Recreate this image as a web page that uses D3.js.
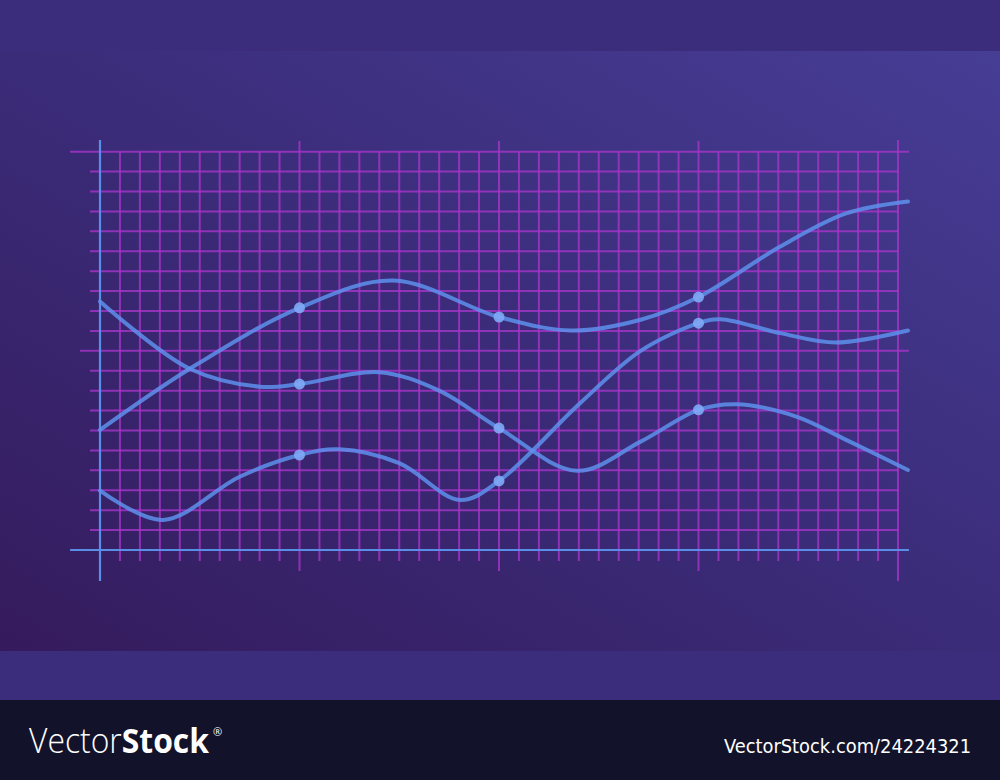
<!DOCTYPE html>
<html>
<head>
<meta charset="utf-8">
<script src="https://cdn.jsdelivr.net/npm/d3@7"></script>
<style>
html,body{margin:0;padding:0;background:#12132a;}
svg{display:block;}
</style>
</head>
<body>
<script>
// ---- data (x in grid columns, y in grid rows) ----
const seriesA = [[0,6.03],[4.5,9.1],[10,12.16],[14.7,13.53],[20,11.7],[23.6,11.02],[27.1,11.56],[30,12.7],[34.1,15.24],[37.4,16.9],[40.5,17.5]];
const seriesB = [[0,12.48],[4.5,9.1],[8,8.2],[10,8.33],[14,8.93],[17,8.0],[20,6.12],[23.9,3.98],[27.1,5.44],[30,7.04],[31.9,7.32],[34.9,6.7],[37.4,5.53],[40.5,4.02]];
const seriesC = [[0,2.98],[3.16,1.51],[7,3.68],[10,4.77],[12,5.06],[15,4.36],[18.05,2.51],[20,3.47],[24.06,7.37],[27.1,10.0],[30,11.39],[31.1,11.59],[34.1,10.89],[36.9,10.42],[40.5,11.02]];
const markerX = [10, 20, 30];
const columns = d3.range(0, 41);
const rows = d3.range(0, 21);
const majorCols = [10, 20, 30];

const W = 1000, H = 780;
const svg = d3.select("body").append("svg").attr("width", W).attr("height", H);
const defs = svg.append("defs");
const grad = defs.append("linearGradient").attr("id","bg")
  .attr("x1","0%").attr("y1","100%").attr("x2","100%").attr("y2","0%");
grad.append("stop").attr("offset","0%").attr("stop-color","#351b5d");
grad.append("stop").attr("offset","45%").attr("stop-color","#3a2a76");
grad.append("stop").attr("offset","100%").attr("stop-color","#463d95");

// background bands
svg.append("rect").attr("x",0).attr("y",0).attr("width",W).attr("height",51).attr("fill","#3b2d7b");
svg.append("rect").attr("x",0).attr("y",51).attr("width",W).attr("height",600).attr("fill","url(#bg)");
svg.append("rect").attr("x",0).attr("y",651).attr("width",W).attr("height",49).attr("fill","#3b2d7b");
svg.append("rect").attr("x",0).attr("y",700).attr("width",W).attr("height",80).attr("fill","#12132a");

const x = d3.scaleLinear().domain([0, 40]).range([100, 898]);
const y = d3.scaleLinear().domain([0, 20]).range([550, 151.7]);

const gridColor = "#a535c8";
const axisColor = "#5a8de6";
const g = svg.append("g");

// horizontal grid lines
g.selectAll("line.h").data(rows.filter(r => r > 0)).join("line")
  .attr("x1", r => (r === 20 ? x(-1.5) : r === 10 ? x(-1) : x(-0.5)))
  .attr("x2", r => (r === 20 || r === 10 ? x(40.55) : x(40.05)))
  .attr("y1", r => y(r)).attr("y2", r => y(r))
  .attr("stroke", gridColor).attr("stroke-width", 2).attr("opacity", 0.8);

// vertical grid lines
g.selectAll("line.v").data(columns.filter(c => c > 0)).join("line")
  .attr("x1", c => x(c)).attr("x2", c => x(c))
  .attr("y1", c => (c === 40 ? 140 : majorCols.includes(c) ? 141 : y(20)))
  .attr("y2", c => (c === 40 ? 581 : majorCols.includes(c) ? 571 : 561))
  .attr("stroke", gridColor).attr("stroke-width", 2).attr("opacity", 0.8);

// axes
g.append("line").attr("x1", x(-1.5)).attr("x2", x(40.55)).attr("y1", y(0)).attr("y2", y(0))
  .attr("stroke", axisColor).attr("stroke-width", 2.2);
g.append("line").attr("x1", x(0)).attr("x2", x(0)).attr("y1", 140).attr("y2", 581)
  .attr("stroke", axisColor).attr("stroke-width", 2.2);

// curves
const line = d3.line().x(d => x(d[0])).y(d => y(d[1])).curve(d3.curveCatmullRom.alpha(0.5));
const allSeries = [seriesA, seriesB, seriesC];
svg.append("g").selectAll("path").data(allSeries).join("path")
  .attr("d", line).attr("fill", "none")
  .attr("stroke", "#5e91ec").attr("stroke-width", 4)
  .attr("stroke-linecap", "round").attr("opacity", 0.85);

// markers
function valueAt(s, cx) {
  const p = s.find(d => d[0] === cx);
  return p ? p[1] : null;
}
const marks = [];
allSeries.forEach(s => markerX.forEach(mx => marks.push([mx, valueAt(s, mx)])));
svg.append("g").selectAll("circle").data(marks).join("circle")
  .attr("cx", d => x(d[0])).attr("cy", d => y(d[1])).attr("r", 5.5)
  .attr("fill", "#80aaf6").attr("opacity", 0.9);

// watermark
const wm = svg.append("text").attr("x", 29).attr("y", 753)
  .attr("font-family", "Open Sans, Liberation Sans, sans-serif").attr("font-size", 34).attr("fill", "#ffffff")
  .attr("textLength", 180).attr("lengthAdjust", "spacingAndGlyphs");
wm.append("tspan").attr("font-weight", 300).text("Vector");
wm.append("tspan").attr("font-weight", 700).text("Stock");
svg.append("text").attr("x", 213).attr("y", 736).attr("font-family", "Open Sans, sans-serif")
  .attr("font-size", 11).attr("fill", "#ffffff").text("®");
svg.append("text").attr("x", 724).attr("y", 753)
  .attr("font-family", "DejaVu Sans Condensed, Liberation Sans Narrow, sans-serif")
  .attr("font-size", 19).attr("fill", "#ffffff")
  .attr("textLength", 247).attr("lengthAdjust", "spacingAndGlyphs")
  .text("VectorStock.com/24224321");
</script>
</body>
</html>
